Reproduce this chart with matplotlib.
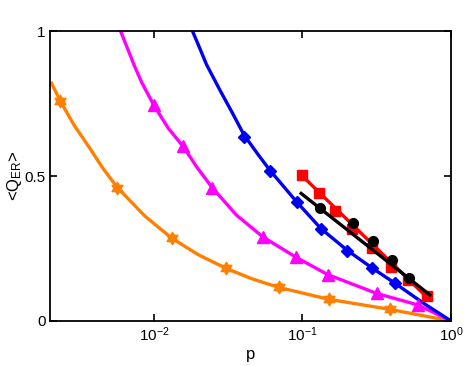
import numpy as np
import matplotlib
matplotlib.use("Agg")
import matplotlib.pyplot as plt
from matplotlib.path import Path

plt.rcParams['font.family'] = ['Liberation Sans', 'DejaVu Sans']
plt.rcParams['mathtext.fontset'] = 'custom'
plt.rcParams['mathtext.rm'] = 'Liberation Sans'
plt.rcParams['mathtext.it'] = 'Liberation Sans'

# ---- data ----
orange_p = [0.00234, 0.00569, 0.01316, 0.0305, 0.0691, 0.150, 0.388]
orange_q = [0.760, 0.460, 0.286, 0.182, 0.116, 0.075, 0.040]
orange_line_p = [0.00205, 0.00234, 0.00290, 0.00365, 0.00455, 0.00569, 0.0087, 0.01316,
                 0.020, 0.0305, 0.046, 0.0691, 0.150, 0.388, 1.0]
orange_line_q = [0.820, 0.760, 0.676, 0.601, 0.526, 0.460, 0.362, 0.286,
                 0.228, 0.182, 0.145, 0.116, 0.075, 0.040, 0.0]

magenta_p = [0.0100, 0.0157, 0.0247, 0.0545, 0.0904, 0.148, 0.316, 0.602]
magenta_q = [0.744, 0.603, 0.460, 0.289, 0.220, 0.160, 0.095, 0.055]
magenta_line_p = [0.00597, 0.00665, 0.00740, 0.00830, 0.0100, 0.0125, 0.0157, 0.0197, 0.0247,
                  0.036, 0.0545, 0.0904, 0.148, 0.316, 0.602, 1.0]
magenta_line_q = [1.0, 0.940, 0.880, 0.822, 0.744, 0.665, 0.603, 0.527, 0.460,
                  0.365, 0.289, 0.220, 0.160, 0.095, 0.055, 0.0]

blue_p = [0.0404, 0.0604, 0.0914, 0.133, 0.200, 0.292, 0.420]
blue_q = [0.636, 0.518, 0.411, 0.316, 0.242, 0.184, 0.132]
blue_line_p = [0.0182, 0.0204, 0.0226, 0.0278, 0.034, 0.0404, 0.050, 0.0604, 0.0914, 0.133,
               0.200, 0.292, 0.420, 0.65, 1.0]
blue_line_q = [1.0, 0.940, 0.885, 0.797, 0.715, 0.642, 0.576, 0.520, 0.411, 0.319,
               0.244, 0.184, 0.130, 0.062, 0.0]

red_p = [0.100, 0.130, 0.166, 0.214, 0.292, 0.395, 0.516, 0.686]
red_q = [0.503, 0.440, 0.380, 0.316, 0.251, 0.187, 0.141, 0.086]
red_line_p = [0.100, 0.71]
red_line_q = [0.500, 0.075]

black_p = [0.131, 0.218, 0.297, 0.399, 0.521]
black_q = [0.389, 0.339, 0.277, 0.210, 0.149]
black_line_p = [0.098, 0.72]
black_line_q = [0.440, 0.090]

xticks = [0.01, 0.1, 1.0]
xticklabels = [r'$10^{-2}$', r'$10^{-1}$', r'$10^{0}$']
yticks = [0, 0.5, 1]
yticklabels = ['0', '0.5', '1']

# 6-pointed star marker
ang = np.deg2rad(np.arange(12) * 30 + 90)
rad = np.where(np.arange(12) % 2 == 0, 1.0, 0.58)
verts = np.column_stack([rad * np.cos(ang), rad * np.sin(ang)])
verts = np.vstack([verts, verts[:1]])
codes = [Path.MOVETO] + [Path.LINETO] * 11 + [Path.CLOSEPOLY]
hexstar = Path(verts, codes)

fig = plt.figure(figsize=(4.74, 3.66), dpi=100)
ax = fig.add_axes([0.1055, 0.123, 0.846, 0.792])

lw = 2.4
c_or = '#ff8000'
c_mg = '#ff00ff'
c_bl = '#0000f0'
c_rd = '#ff0000'

ax.plot(orange_line_p, orange_line_q, color=c_or, lw=lw, zorder=2, solid_joinstyle='round')
ax.plot(orange_p, orange_q, ls='none', marker=hexstar, ms=9, color=c_or, zorder=3)

ax.plot(magenta_line_p, magenta_line_q, color=c_mg, lw=lw, zorder=2, solid_joinstyle='round')
ax.plot(magenta_p, magenta_q, ls='none', marker='^', ms=8, color=c_mg, zorder=3)

ax.plot(blue_line_p, blue_line_q, color=c_bl, lw=lw, zorder=2, solid_joinstyle='round')
ax.plot(blue_p, blue_q, ls='none', marker='D', ms=6, color=c_bl, zorder=3)

ax.plot(red_line_p, red_line_q, color=c_rd, lw=lw, zorder=4)
ax.plot(red_p, red_q, ls='none', marker='s', ms=7, color=c_rd, zorder=5)

ax.plot(black_line_p, black_line_q, color='black', lw=lw, zorder=6)
ax.plot(black_p, black_q, ls='none', marker='o', ms=7, color='black', zorder=5)

ax.set_xscale('log')
ax.set_xlim(0.002, 1.0)
ax.set_ylim(0, 1)
ax.set_xticks(xticks)
ax.set_xticklabels(xticklabels)
ax.xaxis.set_minor_locator(matplotlib.ticker.NullLocator())
ax.set_yticks(yticks)
ax.set_yticklabels(yticklabels)
ax.tick_params(direction='in', length=5, width=1.2, top=True, right=True,
               labelsize=11, pad=3)
for s in ax.spines.values():
    s.set_linewidth(1.3)

ax.set_xlabel('p', fontsize=12, labelpad=2)
ax.set_ylabel(r'<Q$_{\mathrm{ER}}$>', fontsize=12)
ax.yaxis.set_label_coords(-0.066, 0.5)

fig.savefig('out.png', dpi=100)
